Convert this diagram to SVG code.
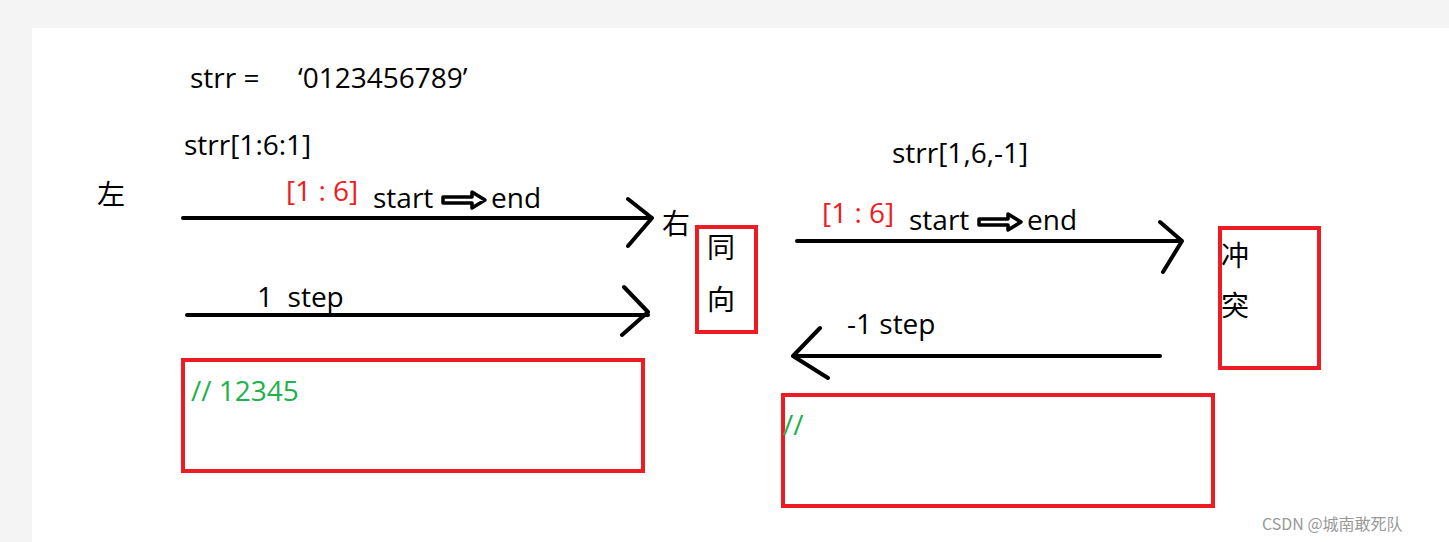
<svg xmlns="http://www.w3.org/2000/svg" width="1449" height="542" viewBox="0 0 1449 542">
<style>
.t{font-family:"Open Sans","Noto Sans CJK SC",sans-serif;font-size:28px;fill:#000}
.c{font-family:"Noto Sans CJK SC",sans-serif;font-size:28px;fill:#000}
.r{fill:#ee1c24}
.g{fill:#22b14c}
.ln{stroke:#000;stroke-width:4;fill:none;stroke-linecap:round;stroke-linejoin:round}
.box{fill:none;stroke:#ed1c24;stroke-width:4}
.ha{fill:#fff;stroke:#000;stroke-width:3.5;stroke-linejoin:round}
</style>
<rect width="1449" height="542" fill="#f4f4f4"/>
<rect x="32" y="28" width="1417" height="514" fill="#fff"/>
<g id="texts">
<text class="t" x="190" y="88">strr =</text>
<text class="t" x="298" y="88">‘0123456789’</text>
<text class="t" x="184" y="155">strr[1:6:1]</text>
<text class="t" x="892" y="163">strr[1,6,-1]</text>
<text class="c" x="97" y="205">左</text>
<text class="c" x="662" y="234">右</text>
</g>
<g id="connectors">
<path class="ln" d="M183 218 H652 M628 199 L652 218 L628 246"/>
<path class="ln" d="M187 315 H648 M624 287 L648 312 L622 335"/>
<path class="ln" d="M797 241 H1182 M1160 222 L1182 241 L1163 272"/>
<path class="ln" d="M1160 356 H793 M820 328 L793 356 L828 378"/>
</g>
<g id="top-left-label">
<text class="t r" x="286" y="201">[1 : 6]</text>
<text class="t" x="373" y="208">start</text>
<path class="ha" d="M443 197 H472 V192 L485 200 L472 208 V203 H443 Z"/>
<text class="t" x="491" y="208">end</text>
<text class="t" x="257" y="307" xml:space="preserve">1  step</text>
</g>
<g id="top-right-label">
<text class="t r" x="822" y="223">[1 : 6]</text>
<text class="t" x="909" y="230">start</text>
<path class="ha" d="M979 219 H1008 V214 L1021 222 L1008 230 V225 H979 Z"/>
<text class="t" x="1027" y="230">end</text>
<text class="t" x="847" y="334">-1 step</text>
</g>
<g id="tongxiang"><rect class="box" x="697" y="227" width="59" height="105"/><text class="c" x="707" y="258">同</text><text class="c" x="707" y="310">向</text></g>
<g id="chongtu"><rect class="box" x="1220" y="228" width="99" height="140"/><text class="c" x="1221" y="266">冲</text><text class="c" x="1221" y="316">突</text></g>
<g id="result1"><rect class="box" x="183" y="360" width="460" height="111"/><text class="t g" x="191" y="401">// 12345</text></g>
<g id="result2"><rect class="box" x="783" y="395" width="430" height="111"/><text class="t g" x="783" y="435">//</text></g>
<text x="1262" y="530" style="font-family:'Noto Sans CJK SC','Liberation Sans',sans-serif;font-size:16px;fill:#999">CSDN @城南敢死队</text>
</svg>
